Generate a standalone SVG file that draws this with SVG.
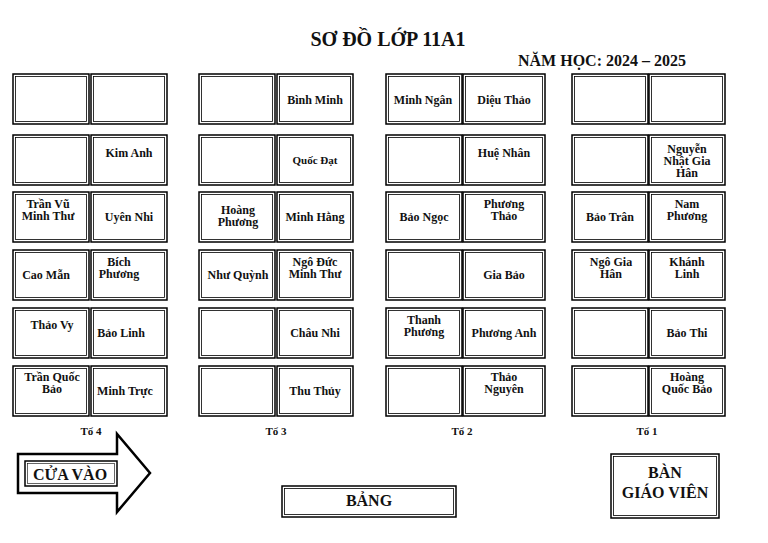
<svg xmlns="http://www.w3.org/2000/svg" width="768" height="543" viewBox="0 0 768 543">
<style>
.o{fill:#fff;stroke:#000;stroke-width:1.5}
.i{fill:none;stroke:#000;stroke-width:0.8}
text{font-family:"Liberation Serif",serif;font-weight:bold;fill:#111;text-anchor:middle}
.n{font-size:12px}
.g{font-size:11px}
</style>
<rect width="768" height="543" fill="#fff"/>
<text x="388" y="46" font-size="20">SƠ ĐỒ LỚP 11A1</text>
<text x="602" y="66" font-size="16">NĂM HỌC: 2024 – 2025</text>
<defs>
<g id="c76"><rect class="o" x="0" y="0" width="76" height="50"/><rect class="i" x="2.5" y="2.5" width="71" height="45"/></g>
<g id="c82"><rect class="o" x="0" y="0" width="82" height="50"/><rect class="i" x="2.5" y="2.5" width="77" height="45"/></g>
</defs>
<g id="to4">
<use href="#c76" x="13" y="74"/><use href="#c76" x="91" y="74"/>
<use href="#c76" x="13" y="135"/><use href="#c76" x="91" y="135"/>
<use href="#c76" x="13" y="192"/><use href="#c76" x="91" y="192"/>
<use href="#c76" x="13" y="250"/><use href="#c76" x="91" y="250"/>
<use href="#c76" x="13" y="308"/><use href="#c76" x="91" y="308"/>
<use href="#c76" x="13" y="366"/><use href="#c76" x="91" y="366"/>
<text class="n" x="129" y="157">Kim Anh</text>
<text class="n" x="48" y="208">Trần Vũ</text><text class="n" x="48" y="220">Minh Thư</text>
<text class="n" x="129" y="221">Uyên Nhi</text>
<text class="n" x="46" y="279">Cao Mẫn</text>
<text class="n" x="119" y="266">Bích</text><text class="n" x="119" y="278">Phương</text>
<text class="n" x="52" y="329">Thảo Vy</text>
<text class="n" x="121" y="337">Bảo Linh</text>
<text class="n" x="52" y="381">Trần Quốc</text><text class="n" x="52" y="393">Bảo</text>
<text class="n" x="125" y="395">Minh Trực</text>
<text class="g" x="91" y="435">Tổ 4</text>
</g>
<g id="to3">
<use href="#c76" x="199" y="74"/><use href="#c76" x="277" y="74"/>
<use href="#c76" x="199" y="135"/><use href="#c76" x="277" y="135"/>
<use href="#c76" x="199" y="192"/><use href="#c76" x="277" y="192"/>
<use href="#c76" x="199" y="250"/><use href="#c76" x="277" y="250"/>
<use href="#c76" x="199" y="308"/><use href="#c76" x="277" y="308"/>
<use href="#c76" x="199" y="366"/><use href="#c76" x="277" y="366"/>
<text class="n" x="315" y="104">Bình Minh</text>
<text class="g" x="315" y="164">Quốc Đạt</text>
<text class="n" x="238" y="214">Hoàng</text><text class="n" x="238" y="226">Phương</text>
<text class="n" x="315" y="221">Minh Hằng</text>
<text class="n" x="238" y="279">Như Quỳnh</text>
<text class="n" x="315" y="266">Ngô Đức</text><text class="n" x="315" y="278">Minh Thư</text>
<text class="n" x="315" y="337">Châu Nhi</text>
<text class="n" x="315" y="395">Thu Thủy</text>
<text class="g" x="276" y="435">Tổ 3</text>
</g>
<g id="to2">
<use href="#c76" x="386" y="74"/><use href="#c82" x="463" y="74"/>
<use href="#c76" x="386" y="135"/><use href="#c82" x="463" y="135"/>
<use href="#c76" x="386" y="192"/><use href="#c82" x="463" y="192"/>
<use href="#c76" x="386" y="250"/><use href="#c82" x="463" y="250"/>
<use href="#c76" x="386" y="308"/><use href="#c82" x="463" y="308"/>
<use href="#c76" x="386" y="366"/><use href="#c82" x="463" y="366"/>
<text class="n" x="423" y="104">Minh Ngân</text>
<text class="n" x="504" y="104">Diệu Thảo</text>
<text class="n" x="504" y="157">Huệ Nhân</text>
<text class="n" x="424" y="221">Bảo Ngọc</text>
<text class="n" x="504" y="208">Phương</text><text class="n" x="504" y="220">Thảo</text>
<text class="n" x="504" y="279">Gia Bảo</text>
<text class="n" x="424" y="324">Thanh</text><text class="n" x="424" y="336">Phương</text>
<text class="n" x="504" y="337">Phương Anh</text>
<text class="n" x="504" y="381">Thảo</text><text class="n" x="504" y="393">Nguyên</text>
<text class="g" x="462" y="435">Tổ 2</text>
</g>
<g id="to1">
<use href="#c76" x="572" y="74"/><use href="#c76" x="649" y="74"/>
<use href="#c76" x="572" y="135"/><use href="#c76" x="649" y="135"/>
<use href="#c76" x="572" y="192"/><use href="#c76" x="649" y="192"/>
<use href="#c76" x="572" y="250"/><use href="#c76" x="649" y="250"/>
<use href="#c76" x="572" y="308"/><use href="#c76" x="649" y="308"/>
<use href="#c76" x="572" y="366"/><use href="#c76" x="649" y="366"/>
<text class="n" x="687" y="153">Nguyễn</text><text class="n" x="687" y="165">Nhật Gia</text><text class="n" x="687" y="177">Hân</text>
<text class="n" x="610" y="221">Bảo Trân</text>
<text class="n" x="687" y="208">Nam</text><text class="n" x="687" y="220">Phương</text>
<text class="n" x="611" y="266">Ngô Gia</text><text class="n" x="611" y="278">Hân</text>
<text class="n" x="687" y="266">Khánh</text><text class="n" x="687" y="278">Linh</text>
<text class="n" x="687" y="337">Bảo Thi</text>
<text class="n" x="687" y="381">Hoàng</text><text class="n" x="687" y="393">Quốc Bảo</text>
<text class="g" x="647" y="435">Tổ 1</text>
</g>
<g id="cuavao">
<path d="M18,454 H117 V434 L150,473 L117,512 V493 H18 Z" fill="#fff" stroke="#000" stroke-width="2.5"/>
<rect x="25" y="461" width="92" height="25" fill="none" stroke="#000" stroke-width="1.5"/>
<rect x="27.5" y="463.5" width="87" height="20" fill="none" stroke="#000" stroke-width="0.6"/>
<text x="70" y="480" font-size="16">CỬA VÀO</text>
</g>
<g id="bang">
<rect class="o" x="282" y="486" width="174" height="31"/>
<rect class="i" x="284.5" y="488.5" width="169" height="26"/>
<text x="369" y="506" font-size="16">BẢNG</text>
</g>
<g id="giaovien">
<rect class="o" x="611" y="454" width="108" height="64"/>
<rect class="i" x="613.5" y="456.5" width="103" height="59"/>
<text x="665" y="478" font-size="16">BÀN</text>
<text x="665" y="498" font-size="16">GIÁO VIÊN</text>
</g>
<g id="connectors"/>
</svg>
